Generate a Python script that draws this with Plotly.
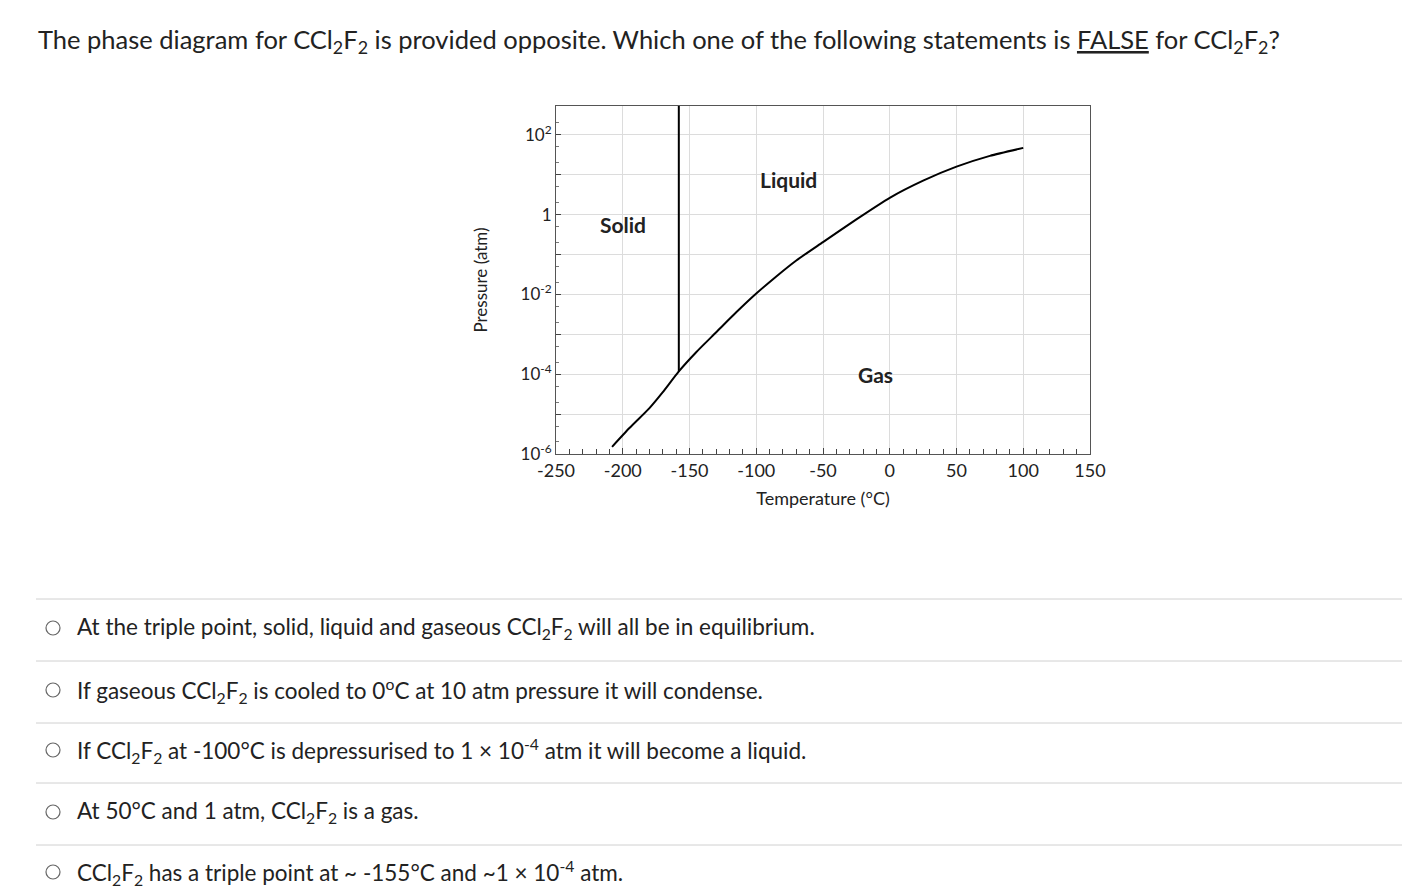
import plotly.graph_objects as go

W, H = 1410, 892

# phase boundaries (temperature in °C, log10 pressure in atm)
vap_T = [-208, -195, -180, -170, -158, -145, -130, -115, -100, -85, -70, -50, -25, 0, 25, 50, 75, 100]
vap_logp = [-5.82, -5.35, -4.85, -4.45, -3.93, -3.45, -2.95, -2.45, -1.98, -1.55, -1.15, -0.69,
            -0.12, 0.42, 0.85, 1.2, 1.47, 1.67]
fus_T = [-158, -158]
fus_logp = [-3.93, 2.72]

ytick_logs = [2, 1, 0, -1, -2, -3, -4, -5, -6]
ytick_text = ["10<sup>2</sup>", "", "1", "", "10<sup>-2</sup>", "", "10<sup>-4</sup>", "", "10<sup>-6</sup>"]
xticks = [-250, -200, -150, -100, -50, 0, 50, 100, 150]
xtick_text = ["-250", "-200", "-150", "-100", "-50", "0", "50", "100", "150"]

region_labels = ["Solid", "Liquid", "Gas"]
region_T = [-200, -76, -11]
region_logp = [-0.25, 0.88, -4.02]

question = "The phase diagram for CCl<sub>2</sub>F<sub>2</sub> is provided opposite. Which one of the following statements is <u>FALSE</u> for CCl<sub>2</sub>F<sub>2</sub>?"
options = [
    "At the triple point, solid, liquid and gaseous CCl<sub>2</sub>F<sub>2</sub> will all be in equilibrium.",
    "If gaseous CCl<sub>2</sub>F<sub>2</sub> is cooled to 0<sup>o</sup>C at 10 atm pressure it will condense.",
    "If CCl<sub>2</sub>F<sub>2</sub> at -100°C is depressurised to 1 × 10<sup>-4</sup> atm it will become a liquid.",
    "At 50°C and 1 atm, CCl<sub>2</sub>F<sub>2</sub> is a gas.",
    "CCl<sub>2</sub>F<sub>2</sub> has a triple point at ~ -155°C and ~1 × 10<sup>-4</sup> atm.",
]
option_y = [620, 682, 742, 804, 864]
sep_y = [591, 653, 715, 775, 837]

fig = go.Figure()
fig.add_trace(go.Scatter(x=vap_T, y=[10 ** v for v in vap_logp], mode="lines",
                         line=dict(color="black", width=2, shape="spline", smoothing=0.6), hoverinfo="skip"))
fig.add_trace(go.Scatter(x=fus_T, y=[10 ** v for v in fus_logp], mode="lines",
                         line=dict(color="black", width=2), hoverinfo="skip"))

px = lambda v: v / W
py = lambda v: 1 - v / H

fig.update_layout(
    width=W, height=H, margin=dict(l=0, r=0, t=0, b=0, autoexpand=False),
    paper_bgcolor="white", plot_bgcolor="white", showlegend=False,
    font=dict(family="Lato, Open Sans, sans-serif", color="#222"),
    xaxis=dict(domain=[px(548), px(1082)], range=[-250, 150], tickvals=xticks, ticktext=xtick_text,
               ticks="inside", ticklen=6, tickcolor="#444", automargin=False,
               minor=dict(dtick=10, ticks="inside", ticklen=5, tickcolor="#444", showgrid=False),
               showgrid=True, gridcolor="#dcdcdc", showline=True, linecolor="#555", mirror=True,
               zeroline=False, tickfont=dict(size=18),
               title=dict(text="Temperature (°C)", font=dict(size=18), standoff=12)),
    yaxis=dict(domain=[py(446), py(98)], type="log", range=[-6, 2.72],
               tickvals=[10 ** v for v in ytick_logs], ticktext=ytick_text, automargin=False,
               ticks="inside", ticklen=5, tickcolor="#444",
               minor=dict(ticks="inside", ticklen=3, tickcolor="#777", showgrid=False),
               showgrid=True, gridcolor="#dcdcdc", showline=True, linecolor="#555", mirror=True,
               zeroline=False, tickfont=dict(size=17),
               title=dict(text="Pressure (atm)", font=dict(size=17), standoff=28)),
)

for txt, x, y in zip(region_labels, region_T, region_logp):
    fig.add_annotation(x=x, y=y, text="<b>%s</b>" % txt, showarrow=False,
                       font=dict(size=21, color="#222"))

fig.add_annotation(x=px(28), y=py(33), xref="paper", yref="paper", text=question,
                   showarrow=False, xanchor="left", yanchor="middle", font=dict(size=25.5, color="#222"))

for yy in sep_y:
    fig.add_shape(type="line", xref="paper", yref="paper", x0=px(28), x1=1, y0=py(yy), y1=py(yy),
                  line=dict(color="#d0d0d0", width=1))
for txt, yy in zip(options, option_y):
    fig.add_shape(type="circle", xref="paper", yref="paper",
                  x0=px(38), x1=px(52), y0=py(yy + 7), y1=py(yy - 7),
                  line=dict(color="#666", width=1.2))
    fig.add_annotation(x=px(67), y=py(yy), xref="paper", yref="paper", text=txt,
                       showarrow=False, xanchor="left", yanchor="middle", font=dict(size=22.5, color="#222"))

fig.write_html("out.html")
